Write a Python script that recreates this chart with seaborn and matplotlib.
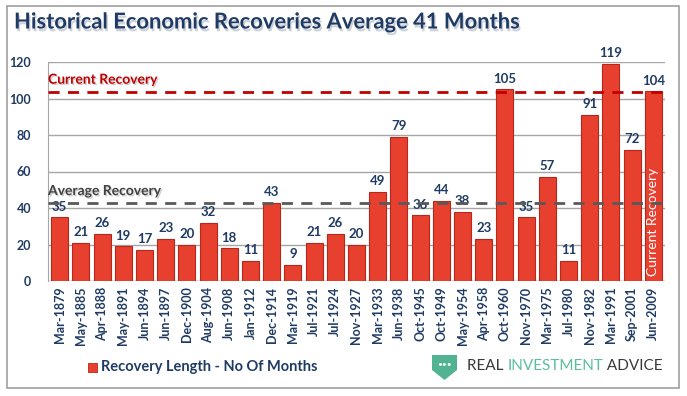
import matplotlib
matplotlib.use("Agg")
import matplotlib.pyplot as plt
import matplotlib.patheffects as pe
from matplotlib.patches import Rectangle, Polygon
import seaborn as sns
import pandas as pd

dates = ["Mar-1879", "May-1885", "Apr-1888", "May-1891", "Jun-1894", "Jun-1897",
         "Dec-1900", "Aug-1904", "Jun-1908", "Jan-1912", "Dec-1914", "Mar-1919",
         "Jul-1921", "Jul-1924", "Nov-1927", "Mar-1933", "Jun-1938", "Oct-1945",
         "Oct-1949", "May-1954", "Apr-1958", "Oct-1960", "Nov-1970", "Mar-1975",
         "Jul-1980", "Nov-1982", "Mar-1991", "Sep-2001", "Jun-2009"]
months = [35, 21, 26, 19, 17, 23, 20, 32, 18, 11, 43, 9, 21, 26, 20, 49, 79, 36,
          44, 38, 23, 105, 35, 57, 11, 91, 119, 72, 104]
current_level = 103.5
average_level = 42.5
y_ticks = [0, 20, 40, 60, 80, 100, 120]

sns.set_style("white")
plt.rcParams['font.family'] = ['Lato', 'DejaVu Sans']

NAVY = "#1F3B64"
BAR = "#E8402E"
EDGE = "#B5261B"

df = pd.DataFrame({"date": dates, "months": months})

fig = plt.figure(figsize=(6.87, 3.96), dpi=100)
ax = fig.add_axes([48/687, 1-281/396, (665-48)/687, (281-62)/396])

sns.barplot(data=df, x="date", y="months", color=BAR, saturation=1, width=0.8,
            edgecolor=EDGE, linewidth=0.8, ax=ax)

ax.set_ylim(0, 120)
ax.set_xlim(-0.55, len(dates) - 0.45)
ax.set_yticks(y_ticks)
ax.yaxis.grid(True, color="#A6A6A6", linewidth=1.0)
ax.set_axisbelow(True)
for s in ["right", "bottom", "top"]:
    ax.spines[s].set_visible(False)
ax.spines["left"].set_color("#A6A6A6")
ax.axhline(0, color="#A6A6A6", linewidth=1.0, zorder=0.5)
ax.set_xlabel("")
ax.set_ylabel("")
ax.tick_params(axis="both", length=0)
ax.tick_params(axis="y", pad=12)
ax.tick_params(axis="x", pad=4)
plt.setp(ax.get_xticklabels(), rotation=90, color=NAVY, fontweight="bold", fontsize=9)
plt.setp(ax.get_yticklabels(), color=NAVY, fontweight="bold", fontsize=9)

# data labels
n = len(dates)
for i, p in enumerate(ax.patches[:n]):
    h = p.get_height()
    ax.text(p.get_x() + p.get_width()/2, h + 2.5, f"{int(h)}", ha="center", va="bottom",
            color=NAVY, fontweight="bold", fontsize=9.5, clip_on=False)

last = ax.patches[n-1]
ax.text(last.get_x() + last.get_width()/2, 3, "Current Recovery", rotation=90,
        ha="center", va="bottom", color="white", fontsize=10)

# reference lines
ax.axhline(current_level, color="#C00000", linestyle=(0, (4, 3)), linewidth=2, zorder=3)
ax.axhline(average_level, color="#595959", linestyle=(0, (4, 3)), linewidth=2, zorder=3)
shadow = [pe.withSimplePatchShadow(offset=(1, -1), shadow_rgbFace="#888888", alpha=0.4)]
ax.text(-0.55, current_level + 3.5, "Current Recovery", color="#C00000", fontweight="bold",
        fontsize=10, ha="left", va="bottom", path_effects=shadow)
ax.text(-0.55, average_level + 3.5, "Average Recovery", color="#404040", fontweight="bold",
        fontsize=10, ha="left", va="bottom", path_effects=shadow)

# title
fig.text(14/687, 1-22/396, "Historical Economic Recoveries Average 41 Months",
         color=NAVY, fontweight="bold", fontsize=15.8, ha="left", va="center",
         path_effects=[pe.withSimplePatchShadow(offset=(1, -2), shadow_rgbFace="#9AA5B5", alpha=0.5)])

# outer border
fig.patches.append(Rectangle((7/687, 1-388/396), (679-7)/687, (388-6)/396,
                             transform=fig.transFigure, fill=False,
                             edgecolor="#A0A0A0", linewidth=1.2))

# legend
fig.patches.append(Rectangle((88/687, 1-372/396), 9/687, 9/396, transform=fig.transFigure,
                             facecolor=BAR, edgecolor=EDGE, linewidth=0.6))
fig.text(101/687, 1-367/396, "Recovery Length - No Of Months", color=NAVY,
         fontweight="bold", fontsize=10.5, ha="left", va="center")

# logo
shield = Polygon([(432/687, 1-355/396), (457/687, 1-355/396), (457/687, 1-370/396),
                  (444.5/687, 1-380/396), (432/687, 1-370/396)],
                 closed=True, transform=fig.transFigure, facecolor="#52B393", edgecolor="none")
fig.patches.append(shield)
fig.text(444.5/687, 1-364/396, "•••", color="white", fontsize=6, ha="center", va="center")
t1 = fig.text(467/687, 1-366/396, "REAL ", color="#3A3A3A", fontsize=11, ha="left", va="center")
fig.canvas.draw()
r = fig.canvas.get_renderer()
bb = t1.get_window_extent(r)
t2 = fig.text(bb.x1/fig.bbox.width, 1-366/396, "INVESTMENT", color="#5BBF9A", fontsize=11,
              ha="left", va="center")
bb2 = t2.get_window_extent(r)
fig.text(bb2.x1/fig.bbox.width, 1-366/396, " ADVICE", color="#3A3A3A", fontsize=11,
         ha="left", va="center")

fig.savefig("out.png", dpi=100)
